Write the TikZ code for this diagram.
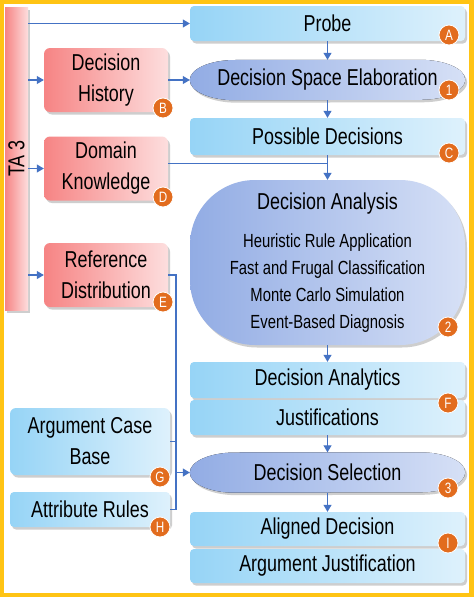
\documentclass[tikz,border=0pt]{standalone}
\usepackage{fontspec}
\setmainfont{Liberation Sans}[FakeStretch=0.78]
\usetikzlibrary{arrows.meta,shadows,backgrounds}

\definecolor{flowblue}{RGB}{68,114,196}
\definecolor{boxblueA}{RGB}{150,212,246}
\definecolor{boxblueB}{RGB}{222,241,252}
\definecolor{pillA}{RGB}{146,172,228}
\definecolor{pillB}{RGB}{214,224,246}
\definecolor{pinkA}{RGB}{246,132,132}
\definecolor{pinkB}{RGB}{253,222,222}
\definecolor{badgeorange}{RGB}{226,108,30}
\definecolor{framegold}{RGB}{255,196,20}

\tikzset{
  soft shadow/.style={drop shadow={shadow xshift=2pt, shadow yshift=-2.5pt, opacity=.35, fill=black!55}},
  every box/.style={soft shadow, align=flush center, inner sep=0pt, font=\fontsize{23}{31}\selectfont},
  blue box/.style={every box, rounded corners=4pt, left color=boxblueA, right color=boxblueB, minimum width=275pt, minimum height=#1},
  pink box/.style={every box, rounded corners=6pt, left color=pinkA, right color=pinkB, minimum width=#1},
  pill text/.style={inner sep=0pt, minimum width=275pt, minimum height=40pt, font=\fontsize{23}{31}\selectfont},
  pill fill/.style={soft shadow, left color=pillA, right color=pillB},
  badge/.style={circle, fill=badgeorange, draw=white, line width=.8pt, text=white, inner sep=0pt, minimum size=20pt, font=\fontsize{15}{15}\selectfont},
  link/.style={draw=flowblue, line width=1.2pt}
}

\begin{document}
\begin{tikzpicture}[x=1pt, y=-1pt, >={Triangle[length=7pt,width=8pt]}]
\useasboundingbox (0,0) rectangle (474,597);

\node [every box, left color=pinkA, right color=pinkB, minimum width=23pt, minimum height=303pt] (ta) at (16.5,158.5) {\rotatebox{90}{TA 3}};

\foreach \n/\y/\h/\t in {probe/23.5/35/Probe, possible/136.5/37/Possible Decisions, analytics/380/36/Decision Analytics, justif/417.5/35/Justifications, aligned/529/34/Aligned Decision, argjust/566/34/Argument Justification}
  \node [blue box=\h pt] (\n) at (327.5,\y) {\t};

\node [pill text] (dse) at (327.5,80) {Decision Space Elaboration};
\node [pill text] (dsel) at (327.5,472.5) {Decision Selection};

\node [every box, rounded corners=65pt, left color=pillA, right color=pillB, minimum width=275pt, minimum height=165pt, text width=275pt] (analysis) at (327.5,262.5)
  {Decision Analysis\\[11pt]\fontsize{19}{27}\selectfont Heuristic Rule Application\\ Fast and Frugal Classification\\ Monte Carlo Simulation\\ Event-Based Diagnosis\par};

\foreach \n/\y/\t in {hist/80/Decision\\History, domain/168.5/Domain\\Knowledge, refdist/275/Reference\\Distribution}
  \node [pink box=124pt, minimum height=64pt] (\n) at (106,\y) {\t};

\node [blue box=67pt, rounded corners=6pt, minimum width=160pt] (casebase) at (90,441.5) {Argument Case\\Base};
\node [blue box=35pt, minimum width=160pt] (attr) at (90,509.5) {Attribute Rules};

\begin{scope}[on background layer]
\fill [white] (0,0) rectangle (474,597);
\foreach \n in {dse,dsel}
  \fill [pill fill] (\n.west) arc [start angle=180, end angle=90, x radius=45pt, y radius=20pt]
    -- ([xshift=-45pt]\n.north east) arc [start angle=90, end angle=-90, x radius=45pt, y radius=20pt]
    -- ([xshift=45pt]\n.south west) arc [start angle=270, end angle=180, x radius=45pt, y radius=20pt] -- cycle;
\end{scope}

\foreach \n in {probe,hist,domain,refdist}
  \draw [link,->] (ta.east |- \n.west) -- (\n.west);

\draw [link,->] (hist) -- (dse);
\draw [link,->] (probe) -- (dse);
\draw [link,->] (dse) -- (possible);
\draw [link,->] (possible) -- (analysis);
\draw [link,->] (analysis) -- (analytics);
\draw [link,->] (justif) -- (dsel);
\draw [link,->] (dsel) -- (aligned);

\coordinate (dk) at ([yshift=5pt]domain.east);
\draw [link] (dk) -- (dk -| possible.south);

\coordinate (bus) at (176,472.5);
\draw [link] (refdist.east) -| (bus) |- (attr.east);
\draw [link] (casebase.east) -- (casebase.east -| bus);
\draw [link,->] (bus) -- (dsel.west);

\foreach \l/\x/\y in {A/449/35, 1/449/90, C/449/153, 2/448/327, F/448/403, 3/448/488, I/448/543, B/163/108, D/163/197, E/163/302, G/160/477, H/160/527}
  \node [badge] (badge-\l) at (\x,\y) {\l};

\draw [framegold, line width=4.5pt] (2,2) rectangle (471.5,595);
\end{tikzpicture}
\end{document}
